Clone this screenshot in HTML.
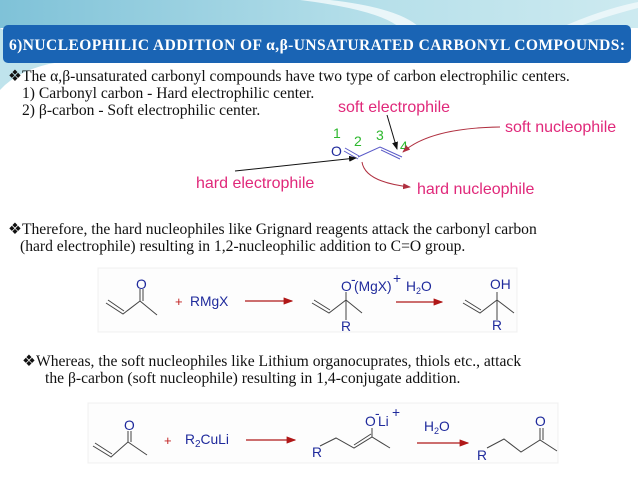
<!DOCTYPE html>
<html><head><meta charset="utf-8"><style>
html,body{margin:0;padding:0;background:#fff;width:638px;height:478px;overflow:hidden}
svg{display:block}
.s{font-family:"Liberation Serif","DejaVu Serif",serif;font-size:15.6px;fill:#111}
.a{font-family:"Liberation Sans",sans-serif}
.m{font-family:"Liberation Sans",sans-serif;font-size:16px;fill:#e0287a}
.b{font-family:"Liberation Sans",sans-serif;font-size:13.8px;fill:#1f2a9c}
.g{font-family:"Liberation Sans",sans-serif;font-size:14px;fill:#2db82d}
</style></head><body>
<svg width="638" height="478" viewBox="0 0 638 478" xmlns="http://www.w3.org/2000/svg">
<defs>
<linearGradient id="sk" x1="0" y1="0" x2="1" y2="0"><stop offset="0" stop-color="#7fc2d8"/><stop offset="0.6" stop-color="#b7e0ea"/><stop offset="1" stop-color="#cdeaf0"/></linearGradient>
<marker id="ar" markerWidth="8" markerHeight="6" refX="7" refY="3" orient="auto"><path d="M0,0 L8,3 L0,6 z" fill="#b01818"/></marker>
<marker id="ak" markerWidth="8" markerHeight="6" refX="7" refY="3" orient="auto"><path d="M0,0 L8,3 L0,6 z" fill="#111"/></marker>
<marker id="am" markerWidth="8" markerHeight="6" refX="7" refY="3" orient="auto"><path d="M0,0 L8,3 L0,6 z" fill="#b03040"/></marker>
</defs>
<rect x="0" y="0" width="638" height="28" fill="url(#sk)"/>
<path d="M0,28 L0,90 Q20,68 60,62 L0,28 z" fill="#bfe3ec"/>
<path d="M300,0 Q380,10 400,28 L420,28 Q400,8 330,0 z" fill="#ffffff" opacity="0.7"/>
<path d="M560,28 Q600,10 638,2 L638,8 Q600,18 575,28 z" fill="#ffffff" opacity="0.6"/>
<rect x="3" y="25" width="628" height="38" rx="5" fill="#1a64b4"/>
<text x="9" y="50" font-family="Liberation Serif,serif" font-weight="bold" font-size="15.5" fill="#fff" textLength="616">6)NUCLEOPHILIC ADDITION OF  α,β-UNSATURATED CARBONYL COMPOUNDS:</text>

<text class="s" x="8" y="81">❖The α,β-unsaturated carbonyl compounds have two type of carbon electrophilic centers.</text>
<text class="s" x="22" y="98">1) Carbonyl carbon - Hard electrophilic center.</text>
<text class="s" x="22" y="115">2) β-carbon - Soft electrophilic center.</text>

<text class="m" x="338" y="112">soft electrophile</text>
<text class="m" x="505" y="132">soft nucleophile</text>
<text class="m" x="196" y="188">hard electrophile</text>
<text class="m" x="417" y="194">hard nucleophile</text>
<text class="g" x="333" y="138">1</text><text class="g" x="354" y="146">2</text><text class="g" x="376" y="140">3</text><text class="g" x="400" y="151">4</text>
<text x="331" y="156" class="a" font-size="14" fill="#1f2a9c">O</text>
<g stroke="#5a5ac8" stroke-width="1" fill="none">
<path d="M345,148 L359,156 M344,151 L358,159 M358,157 L380,147 L402,157 M381,150 L400,159"/>
</g>
<path d="M387,115 L397,149" stroke="#111" stroke-width="1" marker-end="url(#ak)"/>
<path d="M235,171 L356,158" stroke="#111" stroke-width="1" marker-end="url(#ak)"/>
<path d="M500,127 Q430,128 403,152" stroke="#b03040" stroke-width="1" fill="none" marker-end="url(#am)"/>
<path d="M362,162 Q365,182 410,187" stroke="#b03040" stroke-width="1" fill="none" marker-end="url(#am)"/>

<text class="s" x="8" y="234">❖Therefore, the hard nucleophiles like Grignard reagents attack the carbonyl carbon</text>
<text class="s" x="20" y="251">(hard electrophile) resulting in 1,2-nucleophilic addition to C=O group.</text>

<rect x="98" y="268" width="419" height="64" fill="#fdfdfd" stroke="#f0f0f0"/>
<g stroke="#444" stroke-width="1" fill="none">
<path d="M106,303 L123,314 L140,301 L157,315 M108,300 L124,311 M140,301 L140,289 M143,301 L143,289"/>
<path d="M312,303 L329,313 L346,300 L362,313 M314,300 L330,310 M346,300 L346,292 M346,300 L346,320"/>
<path d="M463,303 L480,313 L497,300 L514,313 M465,300 L481,310 M497,300 L497,292 M497,300 L497,320"/>
</g>
<text class="b" x="136" y="289">O</text>
<text x="175" y="306" class="a" font-size="13" fill="#c02020">+</text>
<text class="b" x="190" y="306">RMgX</text>
<path d="M245,301 L292,301" stroke="#b01818" stroke-width="1.2" marker-end="url(#ar)"/>
<text class="b" x="341" y="291">O</text><text class="b" x="351" y="284" font-size="7">-</text>
<text class="b" x="354" y="291">(MgX)</text><text class="b" x="393" y="283" font-size="8">+</text>
<text class="b" x="406" y="291">H<tspan font-size="9" dy="3">2</tspan><tspan dy="-3">O</tspan></text>
<path d="M396,302 L442,302" stroke="#b01818" stroke-width="1.2" marker-end="url(#ar)"/>
<text class="b" x="490" y="289">OH</text>
<text class="b" x="341" y="331">R</text>
<text class="b" x="492" y="330">R</text>

<text class="s" x="22" y="366">❖Whereas, the soft nucleophiles like Lithium organocuprates, thiols etc., attack</text>
<text class="s" x="45" y="383">the  β-carbon (soft nucleophile) resulting in 1,4-conjugate addition.</text>

<rect x="88" y="403" width="470" height="60" fill="#fdfdfd" stroke="#f0f0f0"/>
<g stroke="#444" stroke-width="1" fill="none">
<path d="M93,446 L111,457 L128,442 L147,455 M95,443 L112,454 M128,442 L128,431 M131,442 L131,431"/>
<path d="M320,446 L336,438 L354,448 L372,437 L390,448 M354,445 L371,434 M372,437 L372,428"/>
<path d="M487,448 L504,439 L521,452 L540,440 L557,451 M540,440 L540,428 M543,440 L543,428"/>
</g>
<text class="b" x="124" y="430">O</text>
<text x="164" y="445" class="a" font-size="13" fill="#c02020">+</text>
<text class="b" x="185" y="444">R<tspan font-size="10" dy="3">2</tspan><tspan dy="-3">CuLi</tspan></text>
<path d="M246,440 L295,440" stroke="#b01818" stroke-width="1.2" marker-end="url(#ar)"/>
<text class="b" x="312" y="457">R</text>
<text class="b" x="365" y="426">O</text><text class="b" x="375" y="418" font-size="7">-</text>
<text class="b" x="378" y="426">Li</text><text class="b" x="392" y="417" font-size="8">+</text>
<text class="b" x="424" y="431">H<tspan font-size="9" dy="3">2</tspan><tspan dy="-3">O</tspan></text>
<path d="M417,443 L468,443" stroke="#b01818" stroke-width="1.2" marker-end="url(#ar)"/>
<text class="b" x="477" y="460">R</text>
<text class="b" x="535" y="426">O</text>
</svg>
</body></html>
